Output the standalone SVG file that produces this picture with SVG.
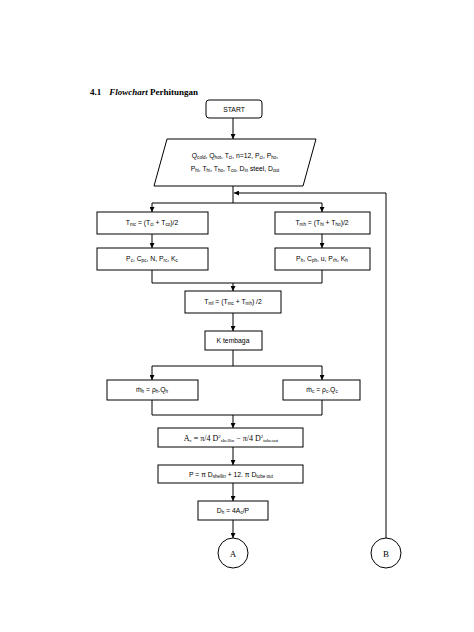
<svg xmlns="http://www.w3.org/2000/svg" width="474" height="632" viewBox="0 0 474 632">
<defs>
<marker id="ah" viewBox="0 0 10 10" refX="10" refY="5" markerWidth="5" markerHeight="5" orient="auto"><path d="M0,0 L10,5 L0,10 z" fill="#000"/></marker>
<style>
.b{fill:#fff;stroke:#000;stroke-width:1}
.c{fill:none;stroke:#000;stroke-width:1}
.a{fill:none;stroke:#000;stroke-width:1;marker-end:url(#ah)}
.t{font-family:"Liberation Sans",Arial,sans-serif;font-size:6.8px;text-anchor:middle;fill:#000}
.s{font-family:"Liberation Serif","Times New Roman",serif;text-anchor:middle;fill:#000}
.sub{font-size:4.6px}
</style>
</defs>
<rect width="474" height="632" fill="#fff"/>
<text x="90" y="95" font-family="Liberation Serif,serif" font-size="9" font-weight="bold">4.1<tspan dx="8" font-style="italic">Flowchart</tspan> Perhitungan</text>

<g id="connectors">
<path class="a" d="M233,118 V139"/>
<path class="c" d="M233,186 V203 M152,203 H322"/>
<path class="a" d="M152,203 V212"/>
<path class="a" d="M322,203 V212"/>
<path class="a" d="M386,538 V193 H234"/>
<path class="a" d="M152,234 V248"/>
<path class="a" d="M322,234 V248"/>
<path class="c" d="M152,270 V283 H322 V270"/>
<path class="a" d="M233,283 V291"/>
<path class="a" d="M233,313 V331"/>
<path class="c" d="M233,350 V366 M152,366 H322"/>
<path class="a" d="M152,366 V380"/>
<path class="a" d="M322,366 V380"/>
<path class="c" d="M152,400 V415 H322 V400"/>
<path class="a" d="M233,415 V428"/>
<path class="a" d="M233,447 V465"/>
<path class="a" d="M233,483 V501"/>
<path class="a" d="M233,520 V538"/>
</g>

<g id="start"><rect class="b" x="206" y="100" width="56" height="18" rx="3"/><text class="t" x="234" y="111.5">START</text></g>

<g id="input"><polygon class="b" points="167,139 316,139 303,186 154,186"/>
<text class="t" x="235" y="158">Q<tspan class="sub" dy="1">cold</tspan><tspan dy="-1">, Q</tspan><tspan class="sub" dy="1">hot</tspan><tspan dy="-1">, T</tspan><tspan class="sub" dy="1">ci</tspan><tspan dy="-1">, n=12, P</tspan><tspan class="sub" dy="1">ci</tspan><tspan dy="-1">, P</tspan><tspan class="sub" dy="1">ho</tspan><tspan dy="-1">,</tspan></text>
<text class="t" x="235" y="171">P<tspan class="sub" dy="1">hi</tspan><tspan dy="-1">, T</tspan><tspan class="sub" dy="1">hi</tspan><tspan dy="-1">, T</tspan><tspan class="sub" dy="1">ho</tspan><tspan dy="-1">, T</tspan><tspan class="sub" dy="1">co</tspan><tspan dy="-1">, D</tspan><tspan class="sub" dy="1">in</tspan><tspan dy="-1"> steel, D</tspan><tspan class="sub" dy="1">out</tspan></text></g>

<g id="tmc"><rect class="b" x="97" y="212" width="111" height="22"/><text class="t" x="152" y="225">T<tspan class="sub" dy="1">mc</tspan><tspan dy="-1"> = (T</tspan><tspan class="sub" dy="1">ci</tspan><tspan dy="-1"> + T</tspan><tspan class="sub" dy="1">co</tspan><tspan dy="-1">)/2</tspan></text></g>
<g id="tmh"><rect class="b" x="275" y="212" width="95" height="22"/><text class="t" x="322" y="225">T<tspan class="sub" dy="1">mh</tspan><tspan dy="-1"> = (T</tspan><tspan class="sub" dy="1">hi</tspan><tspan dy="-1"> + T</tspan><tspan class="sub" dy="1">ho</tspan><tspan dy="-1">)/2</tspan></text></g>

<g id="propc"><rect class="b" x="97" y="248" width="111" height="22"/><text class="t" x="152" y="261">P<tspan class="sub" dy="1">c</tspan><tspan dy="-1">, C</tspan><tspan class="sub" dy="1">pc</tspan><tspan dy="-1">, N, P</tspan><tspan class="sub" dy="1">rc</tspan><tspan dy="-1">, K</tspan><tspan class="sub" dy="1">c</tspan></text></g>
<g id="proph"><rect class="b" x="275" y="248" width="95" height="22"/><text class="t" x="322" y="261">P<tspan class="sub" dy="1">h</tspan><tspan dy="-1">, C</tspan><tspan class="sub" dy="1">ph</tspan><tspan dy="-1">, u, P</tspan><tspan class="sub" dy="1">rh</tspan><tspan dy="-1">, K</tspan><tspan class="sub" dy="1">h</tspan></text></g>

<g id="tmf"><rect class="b" x="185" y="291" width="96" height="22"/><text class="t" x="233" y="304">T<tspan class="sub" dy="1">mf</tspan><tspan dy="-1"> = (T</tspan><tspan class="sub" dy="1">mc</tspan><tspan dy="-1"> + T</tspan><tspan class="sub" dy="1">mh</tspan><tspan dy="-1">) /2</tspan></text></g>

<g id="ktembaga"><rect class="b" x="205" y="331" width="57" height="19"/><text class="t" x="233" y="343">K tembaga</text></g>

<g id="mh"><rect class="b" x="107" y="380" width="91" height="20"/><text class="t" x="152" y="392">ṁ<tspan class="sub" dy="1">h</tspan><tspan dy="-1"> = ρ</tspan><tspan class="sub" dy="1">h</tspan><tspan dy="-1">.Q</tspan><tspan class="sub" dy="1">h</tspan></text></g>
<g id="mc"><rect class="b" x="283" y="380" width="77" height="20"/><text class="t" x="322" y="392">ṁ<tspan class="sub" dy="1">c</tspan><tspan dy="-1"> = ρ</tspan><tspan class="sub" dy="1">c</tspan><tspan dy="-1">.Q</tspan><tspan class="sub" dy="1">c</tspan></text></g>

<g id="ac"><rect class="b" x="158" y="428" width="145" height="19"/><text class="s" x="231" y="441" font-size="8">A<tspan font-size="5" dy="1">c</tspan><tspan dy="-1"> = π/4 D</tspan><tspan font-size="5" dy="-3">2</tspan><tspan font-size="5" dy="4">shellin</tspan><tspan dy="-1"> − π/4 D</tspan><tspan font-size="5" dy="-3">2</tspan><tspan font-size="5" dy="4">tubeout</tspan></text></g>

<g id="perim"><rect class="b" x="158" y="465" width="145" height="18"/><text class="t" x="231" y="476.5">P = π D<tspan class="sub" dy="1">shellin</tspan><tspan dy="-1"> + 12. π D</tspan><tspan class="sub" dy="1">tube out</tspan></text></g>

<g id="dh"><rect class="b" x="198" y="501" width="70" height="19"/><text class="t" x="233" y="513">D<tspan class="sub" dy="1">h</tspan><tspan dy="-1"> = 4A</tspan><tspan class="sub" dy="1">c</tspan><tspan dy="-1">/P</tspan></text></g>

<g id="connA"><circle class="b" cx="233" cy="553" r="15"/><text class="s" x="233" y="556.5" font-size="9">A</text></g>
<g id="connB"><circle class="b" cx="386" cy="553" r="15"/><text class="s" x="386" y="556.5" font-size="9">B</text></g>
</svg>
